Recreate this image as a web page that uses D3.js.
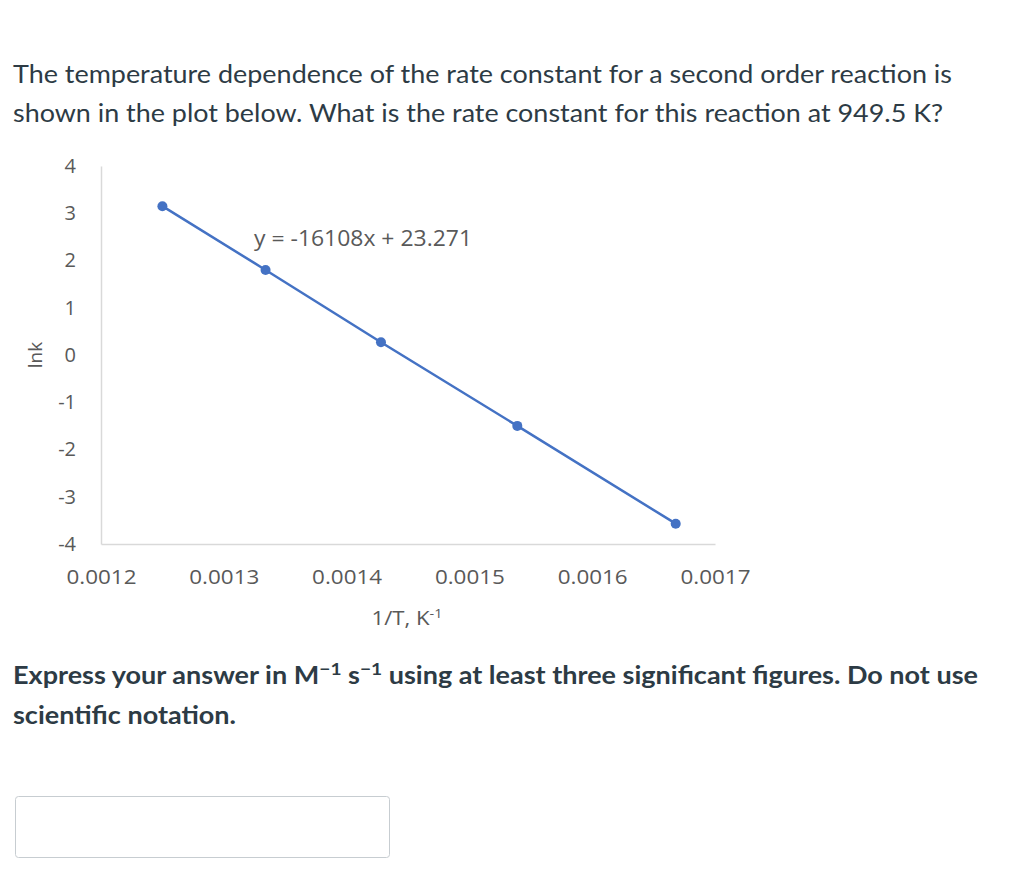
<!DOCTYPE html>
<html>
<head>
<meta charset="utf-8">
<script src="https://cdn.jsdelivr.net/npm/d3@7"></script>
<style>
  html, body { margin: 0; padding: 0; background: #fff; }
  svg { display: block; }
</style>
</head>
<body>
<div id="chart"></div>
<script>
// values: 1/T (K^-1) and ln k
const invT = [0.00125, 0.001334, 0.001428, 0.001539, 0.001668];
const lnK = [3.15, 1.80, 0.27, -1.50, -3.57];
const xTicks = [0.0012, 0.0013, 0.0014, 0.0015, 0.0016, 0.0017];
const yTicks = [-4, -3, -2, -1, 0, 1, 2, 3, 4];
const trendLabel = 'y = -16108x + 23.271';
const questionLines = [
  'The temperature dependence of the rate constant for a second order reaction is',
  'shown in the plot below. What is the rate constant for this reaction at 949.5 K?'
];
const questionWidths = [939, 930];

const width = 1024;
const height = 885;
const chartFont = '"Open Sans", sans-serif';
const textFont = 'Lato, sans-serif';

const svg = d3.select('#chart')
  .append('svg')
  .attr('width', width)
  .attr('height', height);

// question text (the screenshot is a bit wider than the font, so stretch to fit)
svg.append('g')
  .selectAll('text')
  .data(questionLines)
  .join('text')
  .attr('x', 13)
  .attr('y', (d, i) => 83 + i * 39)
  .attr('font-family', textFont)
  .attr('font-size', '25px')
  .attr('fill', '#2d3b45')
  .attr('textLength', (d, i) => questionWidths[i])
  .attr('lengthAdjust', 'spacingAndGlyphs')
  .text((d) => d);

const x = d3.scaleLinear().domain([0.0012, 0.0017]).range([101, 715]);
const y = d3.scaleLinear().domain([-4, 4]).range([544, 166]);

const yAxis = svg.append('g')
  .attr('transform', `translate(${x(0.0012)},0)`)
  .call(d3.axisLeft(y).tickValues(yTicks).tickSize(0).tickPadding(25).tickFormat((d) => String(d)));

const xAxis = svg.append('g')
  .attr('transform', `translate(0,${y(-4)})`)
  .call(d3.axisBottom(x).tickValues(xTicks).tickSize(0).tickPadding(26).tickFormat(d3.format('.4f')));

[yAxis, xAxis].forEach((ax) => {
  ax.select('.domain').attr('stroke', '#d9d9d9').attr('stroke-width', 1.5);
  ax.selectAll('text')
    .attr('font-family', chartFont)
    .attr('font-size', '20px')
    .attr('fill', '#595959');
});
xAxis.selectAll('text')
  .attr('textLength', 70)
  .attr('lengthAdjust', 'spacingAndGlyphs');

// axis titles
svg.append('text')
  .attr('transform', `translate(42,${y(0)}) rotate(-90)`)
  .attr('text-anchor', 'middle')
  .attr('font-family', chartFont)
  .attr('font-size', '19px')
  .attr('fill', '#595959')
  .text('lnk');

const xTitle = svg.append('text')
  .attr('x', 407)
  .attr('y', 625)
  .attr('text-anchor', 'middle')
  .attr('font-family', chartFont)
  .attr('font-size', '20px')
  .attr('fill', '#595959')
  .attr('textLength', 71)
  .attr('lengthAdjust', 'spacingAndGlyphs');
xTitle.append('tspan').text('1/T, K');
xTitle.append('tspan').attr('dy', -7).attr('font-size', '13px').text('-1');

// series
const points = invT.map((v, i) => [v, lnK[i]]);

svg.append('path')
  .datum(points)
  .attr('fill', 'none')
  .attr('stroke', '#4472c4')
  .attr('stroke-width', 2.5)
  .attr('d', d3.line().x((d) => x(d[0])).y((d) => y(d[1])));

svg.append('g')
  .selectAll('circle')
  .data(points)
  .join('circle')
  .attr('cx', (d) => x(d[0]))
  .attr('cy', (d) => y(d[1]))
  .attr('r', 5)
  .attr('fill', '#4472c4');

svg.append('text')
  .attr('x', 254)
  .attr('y', 246)
  .attr('font-family', chartFont)
  .attr('font-size', '21px')
  .attr('fill', '#595959')
  .attr('textLength', 218)
  .attr('lengthAdjust', 'spacingAndGlyphs')
  .text(trendLabel);

// instructions
const note = svg.append('text')
  .attr('x', 13)
  .attr('y', 684)
  .attr('font-family', textFont)
  .attr('font-size', '24px')
  .attr('font-weight', 700)
  .attr('fill', '#2d3b45')
  .attr('textLength', 965)
  .attr('lengthAdjust', 'spacingAndGlyphs');
note.append('tspan').text('Express your answer in M');
note.append('tspan').attr('dy', -9).attr('font-size', '17px').text('\u22121');
note.append('tspan').attr('dy', 9).text(' s');
note.append('tspan').attr('dy', -9).attr('font-size', '17px').text('\u22121');
note.append('tspan').attr('dy', 9).text(' using at least three significant figures. Do not use');

svg.append('text')
  .attr('x', 13)
  .attr('y', 724)
  .attr('font-family', textFont)
  .attr('font-size', '24px')
  .attr('font-weight', 700)
  .attr('fill', '#2d3b45')
  .attr('textLength', 223)
  .attr('lengthAdjust', 'spacingAndGlyphs')
  .text('scientific notation.');

// answer box
svg.append('rect')
  .attr('x', 15.5)
  .attr('y', 796.5)
  .attr('width', 374)
  .attr('height', 61)
  .attr('rx', 3)
  .attr('fill', '#fff')
  .attr('stroke', '#c7cdd1')
  .attr('stroke-width', 1);
</script>
</body>
</html>
